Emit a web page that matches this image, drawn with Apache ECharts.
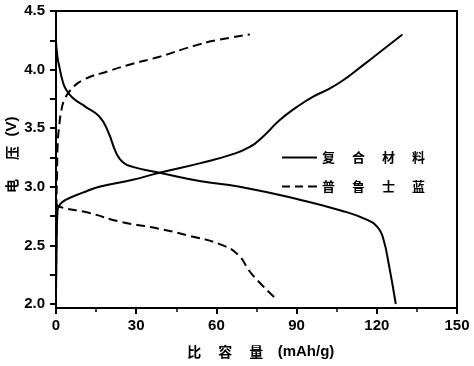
<!DOCTYPE html>
<html>
<head>
<meta charset="utf-8">
<script src="https://cdn.jsdelivr.net/npm/echarts@6/dist/echarts.min.js"></script>
<style>html,body{margin:0;padding:0;background:#fff;}#c{width:474px;height:366px;}</style>
</head>
<body>
<div id="c"></div>
<script>
// Composite material (solid) – charge
var compChargeX = [0, 0.3, 0.6, 1.5, 3.75, 10, 16.2, 28.7, 38.7, 53.7, 65, 72.5, 77.5, 83.7, 90, 96.2, 102.5, 108.7, 115, 121.2, 129.6];
var compChargeY = [2.1, 2.6, 2.8, 2.85, 2.89, 2.95, 3.0, 3.06, 3.12, 3.2, 3.27, 3.34, 3.43, 3.57, 3.68, 3.77, 3.84, 3.93, 4.04, 4.15, 4.3];
// Composite material (solid) – discharge
var compDisX = [0, 0.6, 1.2, 2.5, 3.75, 6.2, 11.2, 16.2, 19.5, 22.5, 25, 28.7, 38.7, 53.7, 68.7, 91.2, 106.2, 116.2, 120.5, 122.5, 124.4, 127.1];
var compDisY = [4.24, 4.1, 4.03, 3.9, 3.83, 3.76, 3.68, 3.6, 3.47, 3.29, 3.21, 3.17, 3.12, 3.05, 3.0, 2.89, 2.8, 2.72, 2.65, 2.55, 2.35, 2.0];
// Prussian blue (dashed) – charge
var pbChargeX = [0, 0.2, 0.4, 0.6, 1.2, 2, 3.1, 5.6, 10, 20, 28.7, 38.7, 51.2, 60, 72.5];
var pbChargeY = [2.1, 2.9, 3.1, 3.35, 3.52, 3.65, 3.74, 3.83, 3.91, 3.99, 4.05, 4.11, 4.2, 4.25, 4.3];
// Prussian blue (dashed) – discharge
var pbDisX = [0, 1.2, 11.9, 24.4, 36.9, 49.4, 61.9, 68.1, 73.1, 82.5];
var pbDisY = [2.86, 2.83, 2.78, 2.7, 2.65, 2.585, 2.505, 2.42, 2.26, 2.04];

var xTicks = [0, 30, 60, 90, 120, 150];
var yLabels = [2.0, 2.5, 3.0, 3.5, 4.0, 4.5];
var yTicks = [2.0, 2.25, 2.5, 2.75, 3.0, 3.25, 3.5, 3.75, 4.0, 4.25, 4.5];
var seriesNames = ['复合材料', '普鲁士蓝'];

function pairs(xs, ys) { return xs.map(function (x, i) { return [x, ys[i]]; }); }

var numFont = { fontFamily: 'Liberation Sans', fontWeight: 'bold', fontSize: 15, color: '#000' };
var cjk = 'Noto Sans CJK SC';

var chart = echarts.init(document.getElementById('c'), null, { renderer: 'canvas' });
var solid = { color: '#000', width: 2, type: 'solid' };
var dashed = { color: '#000', width: 2, type: [9, 5] };
function mk(name, data, ls) {
  return { name: name, type: 'line', data: data, symbol: 'none', showSymbol: false,
    smooth: 0.5, lineStyle: ls, itemStyle: { color: '#000' }, z: 3 };
}
chart.setOption({
  animation: false,
  backgroundColor: '#fff',
  grid: { left: 56, right: 17, top: 11, bottom: 58, containLabel: false, outerBoundsMode: 'none',
    show: true, borderColor: '#000', borderWidth: 2, backgroundColor: 'transparent' },
  legend: {
    left: 277, top: 146, orient: 'vertical', itemWidth: 35, itemHeight: 2, itemGap: 16,
    symbolKeepAspect: false,
    data: [
      { name: seriesNames[0], icon: 'path://M0,0H35V2H0Z' },
      { name: seriesNames[1], icon: 'path://M0,0H8V2H0Z M13,0H21V2H13Z M26,0H35V2H26Z' }
    ],
    itemStyle: { color: '#000' },
    formatter: function (n) {
      return n.split('').map(function (ch) { return '{a|' + ch + '}'; }).join('');
    },
    textStyle: { rich: { a: { width: 30, fontFamily: cjk, fontWeight: 'bold', fontSize: 13, color: '#000' } } }
  },
  xAxis: {
    type: 'value', min: 0, max: 150, interval: 30,
    name: '{c|比}{c|容}{c|量}{t|(mAh/g)}', nameLocation: 'middle', nameGap: 36, nameMoveOverlap: false,
    nameTextStyle: { rich: {
      c: { width: 31, fontFamily: cjk, fontWeight: 'bold', fontSize: 14, color: '#000' },
      t: { fontFamily: 'Liberation Sans', fontWeight: 'bold', fontSize: 15, color: '#000', padding: [0, 0, 0, 6] } } },
    axisLine: { show: true, lineStyle: { color: '#000', width: 2 } },
    axisTick: { show: true, inside: false, length: 6, lineStyle: { color: '#000', width: 2 } },
    minorTick: { show: true, splitNumber: 2, length: 4, lineStyle: { color: '#000', width: 1.5 } },
    axisLabel: Object.assign({ margin: 10 }, numFont),
    splitLine: { show: false }
  },
  yAxis: {
    type: 'value', min: 1.966, max: 4.5,
    name: '{c|电}{c|压}{t|(V)}', nameLocation: 'middle', nameGap: 37, nameRotate: 90, nameMoveOverlap: false,
    nameTextStyle: { rich: {
      c: { width: 33, fontFamily: cjk, fontWeight: 'bold', fontSize: 14, color: '#000' },
      t: { fontFamily: 'Liberation Sans', fontWeight: 'bold', fontSize: 15, color: '#000' } } },
    axisLine: { show: true, lineStyle: { color: '#000', width: 2 } },
    axisTick: { show: true, inside: false, length: 6, customValues: yTicks, lineStyle: { color: '#000', width: 2 } },
    axisLabel: Object.assign({ margin: 11, customValues: yLabels, formatter: function (v) { return v.toFixed(1); } }, numFont),
    splitLine: { show: false }
  },
  series: [
    mk(seriesNames[0], pairs(compChargeX, compChargeY), solid),
    mk(seriesNames[0] + '_d', pairs(compDisX, compDisY), solid),
    mk(seriesNames[1], pairs(pbChargeX, pbChargeY), dashed),
    mk(seriesNames[1] + '_d', pairs(pbDisX, pbDisY), dashed)
  ]
});
</script>
</body>
</html>
